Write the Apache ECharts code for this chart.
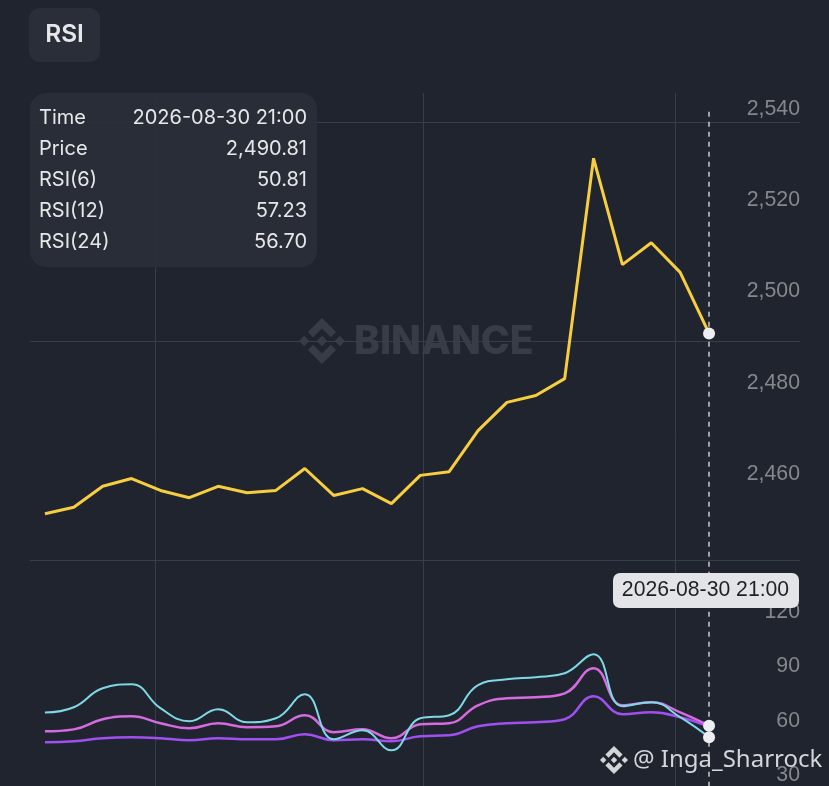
<!DOCTYPE html>
<html><head><meta charset="utf-8">
<style>html,body{margin:0;padding:0;background:#20242e}#c{width:829px;height:786px}</style>
<script src="https://cdn.jsdelivr.net/npm/echarts@6/dist/echarts.min.js"></script>
</head><body><div id="c"></div>
<script>
const times = ['2026-08-29 22:00','2026-08-29 23:00','2026-08-30 00:00','2026-08-30 01:00','2026-08-30 02:00','2026-08-30 03:00','2026-08-30 04:00','2026-08-30 05:00','2026-08-30 06:00','2026-08-30 07:00','2026-08-30 08:00','2026-08-30 09:00','2026-08-30 10:00','2026-08-30 11:00','2026-08-30 12:00','2026-08-30 13:00','2026-08-30 14:00','2026-08-30 15:00','2026-08-30 16:00','2026-08-30 17:00','2026-08-30 18:00','2026-08-30 19:00','2026-08-30 20:00','2026-08-30 21:00'];
const price = [2451.3,2452.7,2457.3,2459,2456.4,2454.8,2457.3,2455.9,2456.4,2461.2,2455.3,2456.8,2453.5,2459.7,2460.5,2469.5,2475.7,2477.2,2480.9,2529.2,2505.9,2510.7,2504.2,2490.81];
const rsi6 = [64.5,67.4,77.9,80.1,66.9,59.7,66.3,59.1,61.3,74.6,49.7,54.7,43.6,61.3,63,79.6,82.9,84,86.2,96.7,68,70.2,61.9,50.81];
const rsi12 = [54.1,55.2,60.8,62.4,58.6,55.8,58.6,56.4,56.9,63,53.6,55.2,50.3,58,58.6,68.5,72.4,72.9,75.1,89,68.5,70.2,64.6,57.23];
const rsi24 = [48.1,48.6,50.3,50.8,50.3,49.2,50.3,49.7,49.7,52.5,49.2,49.7,48.6,51.4,51.9,56.9,58.6,59.1,60.8,73.5,63.5,64.6,61.9,56.70];
const tipLabels = ['Time','Price','RSI(6)','RSI(12)','RSI(24)'];
const tipValues = ['2026-08-30 21:00','2,490.81','50.81','57.23','56.70'];
const xGuides = ['2026-08-30 01:49','2026-08-30 11:07','2026-08-30 19:49'];
const yGuides = [2537.15,2489.15,2441.15];
const title = 'RSI';
const crossTime = '2026-08-30 21:00';

const BG='#20242e', GRID='#393d47', AX='#85878c', TXT='#e6e7e9';
const LOGO='M16.624 13.9202l2.7175 2.7154-7.353 7.353-7.353-7.352 2.7175-2.7164 4.6355 4.6595 4.6356-4.6595zm4.6366-4.6366L24 12l-2.7154 2.7164L18.5682 12l2.6924-2.7164zm-9.272.001l2.7163 2.6914-2.7164 2.7174v-.001L9.2721 12l2.7164-2.7154zm-9.2722-.001L5.4088 12l-2.6914 2.6924L0 12l2.7164-2.7164zM11.9885.0115l7.353 7.329-2.7174 2.7154-4.6356-4.6356-4.6355 4.6595-2.7174-2.7154 7.353-7.353z';
echarts.graphic.registerShape('binanceLogo',echarts.graphic.extendPath(LOGO,{}));
const xMin='2026-08-29 21:29', xMax='2026-08-31 00:09';
const pair=(arr)=>arr.map((v,i)=>[times[i],v]);
const lastDot=(arr)=>({silent:true,z:20,symbol:'circle',symbolSize:12,itemStyle:{color:'#eceef2'},label:{show:false},
  data:[{coord:[times[times.length-1],arr[arr.length-1]]}]});
const xAxisBase={type:'time',min:xMin,max:xMax,show:false};
const yLabel={inside:true,margin:0,color:AX,fontFamily:'Liberation Sans',fontSize:21.3,padding:[0,0,6,0]};

const graphic=[
 {type:'rect',z:100,shape:{x:29,y:8,width:71,height:54,r:11},style:{fill:'#2a2e39'}},
 {type:'text',z:101,style:{x:64.5,y:35,text:title,fill:TXT,font:'600 24.5px Inter',textAlign:'center',textVerticalAlign:'middle'}},
 {type:'rect',z:100,shape:{x:30,y:93,width:287,height:174,r:16},style:{fill:'#2a2e39',opacity:0.95}},
 {type:'rect',z:100,shape:{x:613,y:573,width:186,height:35,r:7},style:{fill:'#e3e4e8'}},
 {type:'text',z:101,style:{x:705.5,y:590.5,text:crossTime,fill:'#1e2026',font:'21.2px Liberation Sans',textAlign:'center',textVerticalAlign:'middle'}},
 {type:'binanceLogo',z:1,x:299,y:318,scaleX:46/24,scaleY:46/24,style:{fill:'#383c47'}},
 {type:'text',z:1,style:{x:354,y:342,text:'BINANCE',fill:'#383c47',font:'800 39px Inter',textVerticalAlign:'middle'}},
 {type:'binanceLogo',z:110,x:600,y:746,scaleX:28/24,scaleY:28/24,style:{fill:'#d4d5d8'}},
 {type:'text',z:110,style:{x:633,y:760,text:'@ Inga_Sharrock',fill:'#d4d5d8',font:'24px Noto Sans',textVerticalAlign:'middle',shadowColor:'rgba(0,0,0,0.6)',shadowBlur:2,shadowOffsetX:1,shadowOffsetY:1}}
];
tipLabels.forEach((t,i)=>{
  const y=118+i*31;
  graphic.push({type:'text',z:101,style:{x:39,y,text:t,fill:TXT,font:'20px Inter',textVerticalAlign:'middle'}});
  graphic.push({type:'text',z:101,style:{x:307,y,text:tipValues[i],fill:TXT,font:'20px Inter',textAlign:'right',textVerticalAlign:'middle'}});
});

const chart=echarts.init(document.getElementById('c'),null,{renderer:'canvas'});
chart.setOption({
 animation:false,backgroundColor:BG,graphic,
 grid:[
  {left:30,right:29,top:93,bottom:0},
  {left:30,right:29,top:109,bottom:220.75},
  {left:30,right:29,top:612,bottom:11}
 ],
 xAxis:[{...xAxisBase,gridIndex:0},{...xAxisBase,gridIndex:1},{...xAxisBase,gridIndex:2}],
 yAxis:[
  {gridIndex:0,type:'value',min:2391.6,max:2543.5,show:false},
  {gridIndex:1,type:'value',position:'right',min:2440,max:2540,interval:20,splitLine:{show:false},axisLine:{show:false},axisTick:{show:false},
   axisLabel:{...yLabel,formatter:v=>v===2440?'':v.toLocaleString('en-US')}},
  {gridIndex:2,type:'value',position:'right',min:30,max:120,interval:30,splitLine:{show:false},axisLine:{show:false},axisTick:{show:false},axisLabel:yLabel}
 ],
 series:[
  {type:'line',xAxisIndex:0,yAxisIndex:0,data:[],silent:true,z:0,
   markLine:{silent:true,symbol:'none',label:{show:false},animation:false,lineStyle:{color:GRID,width:1,type:'solid'},
    data:[...xGuides.map(t=>({xAxis:t})),...yGuides.map(v=>({yAxis:v})),
     [{coord:[crossTime,2539.4],lineStyle:{color:'#c9cacd',width:1.5,type:[5,5]}},{coord:[crossTime,2391.6]}]]}},
  {type:'line',xAxisIndex:1,yAxisIndex:1,data:pair(price),showSymbol:false,lineStyle:{color:'#f6ce3f',width:3},z:5,markPoint:lastDot(price)},
  {type:'line',xAxisIndex:2,yAxisIndex:2,data:pair(rsi24),smooth:0.45,showSymbol:false,lineStyle:{color:'#a04ff0',width:2.5},z:5},
  {type:'line',xAxisIndex:2,yAxisIndex:2,data:pair(rsi12),smooth:0.45,showSymbol:false,lineStyle:{color:'#d56bde',width:2.5},z:6,markPoint:lastDot(rsi12)},
  {type:'line',xAxisIndex:2,yAxisIndex:2,data:pair(rsi6),smooth:0.45,showSymbol:false,lineStyle:{color:'#7fd8e6',width:2},z:7,markPoint:lastDot(rsi6)}
 ]
});
</script></body></html>
